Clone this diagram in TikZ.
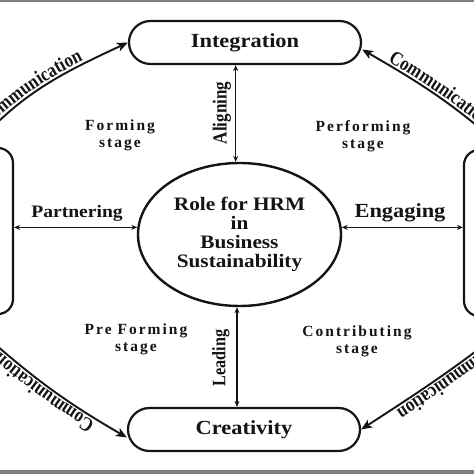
\documentclass[tikz,border=0pt]{standalone}
\usepackage{fontspec}
\setmainfont{Liberation Serif}
\newfontfamily\wfont[FakeStretch=1.12]{Liberation Serif}
\newfontfamily\cfont[FakeStretch=0.85]{Liberation Serif}
\newfontfamily\stfont[LetterSpace=13]{Liberation Serif}
\usetikzlibrary{arrows.meta,shapes.geometric,decorations.text}
\definecolor{ink}{RGB}{20,20,20}
\begin{document}
\begin{tikzpicture}[x=1pt,y=1pt,
  box/.style={draw=ink, line width=2.2pt, rounded corners=21.5pt, minimum width=232pt, minimum height=43pt, inner sep=0pt, text=ink, font=\wfont\bfseries\fontsize{20}{20}\selectfont},
  sidebox/.style={draw=ink, line width=2.2pt, rounded corners=15pt, minimum width=80pt, minimum height=166pt, inner sep=0pt},
  hub/.style={ellipse, draw=ink, line width=2.4pt, minimum width=203pt, minimum height=143pt, inner sep=0pt, align=center, text=ink, font=\wfont\bfseries\fontsize{19}{19}\selectfont},
  stagelbl/.style={align=center, text=ink, font=\stfont\bfseries\fontsize{15.5}{17}\selectfont},
  armlbl/.style={text=ink, inner sep=0pt},
  dbl/.style={draw=ink, {Stealth[length=6pt,width=5pt]}-{Stealth[length=6pt,width=5pt]}, line width=1.4pt},
  comm/.style={draw=ink, -{Stealth[length=11pt,width=9pt,inset=3pt]}, line width=1.9pt},
  commtext/.style={decorate, decoration={text along path, raise=3pt,
     text={|\cfont\bfseries\fontsize{20}{20}\selectfont\color{ink}|Communication}}}
]
\useasboundingbox (0,0) rectangle (474,474);
\clip (0,0) rectangle (474,474);
\fill[white] (0,0) rectangle (474,474);
\fill[black!50] (0,472) rectangle (474,474);
\fill[black!50] (0,0) rectangle (474,4);

% nodes
\node[box] (integ) at (245,431.5) {Integration};
\node[box] (crea) at (244,44.5) {Creativity};
\node[sidebox] (lbox) at (-27,243) {};
\node[sidebox] (rbox) at (504,241) {};
\node[hub] (ell) at (239.5,239.5) {Role for HRM\\in\\Business\\Sustainability};

% spokes
\draw[dbl] (ell.93) -- (ell.93 |- integ.south);
\draw[dbl] (ell.268) -- (ell.268 |- crea.north);
\draw[dbl] (ell.176) -- (ell.176 -| lbox.east);
\draw[dbl] (ell.4) -- (ell.4 -| rbox.west);

% spoke labels
\node[armlbl, rotate=90, font=\cfont\bfseries\fontsize{20}{20}\selectfont] (alig) at (222,361) {Aligning};
\node[armlbl, rotate=90, font=\cfont\bfseries\fontsize{19}{19}\selectfont] (lead) at (221,116) {Leading};
\node[armlbl, font=\wfont\bfseries\fontsize{17.5}{17.5}\selectfont] (part) at (77,261) {Partnering};
\node[armlbl, font=\wfont\bfseries\fontsize{20}{20}\selectfont] (eng) at (400,261) {Engaging};

% stages
\node[stagelbl] (s1) at (120,338.5) {Forming\\stage};
\node[stagelbl] (s2) at (363,338) {Performing\\stage};
\node[stagelbl] (s3) at (136,134.5) {Pre Forming\\stage};
\node[stagelbl] (s4) at (357,132.5) {Contributing\\stage};

% communication arcs
\coordinate (tl0) at (-30,322);
\coordinate (tr0) at (505,324);
\coordinate (bl0) at (-30,152);
\coordinate (br0) at (505,145);

\draw[comm] (tl0) to[out=50,in=205] (integ.west);
\path[commtext, decoration={text align={right, right indent=48pt}}] (tl0) to[out=50,in=205] (integ.west);

\draw[comm] (tr0) to[out=138,in=330] ([yshift=-7pt]integ.east);
\path[commtext, decoration={text align={left, left indent=28pt}}] ([yshift=-7pt]integ.east) to[out=330,in=138] (tr0);

\draw[comm] (bl0) to[out=-42,in=150] ([yshift=-8pt]crea.west);
\path[commtext, decoration={text align={left, left indent=35pt}}] ([yshift=-8pt]crea.west) to[out=150,in=-42] (bl0);

\draw[comm] (br0) to[out=218,in=33] (crea.east);
\path[commtext, decoration={text align={right, right indent=40pt}}] (br0) to[out=218,in=33] (crea.east);
\end{tikzpicture}
\end{document}
